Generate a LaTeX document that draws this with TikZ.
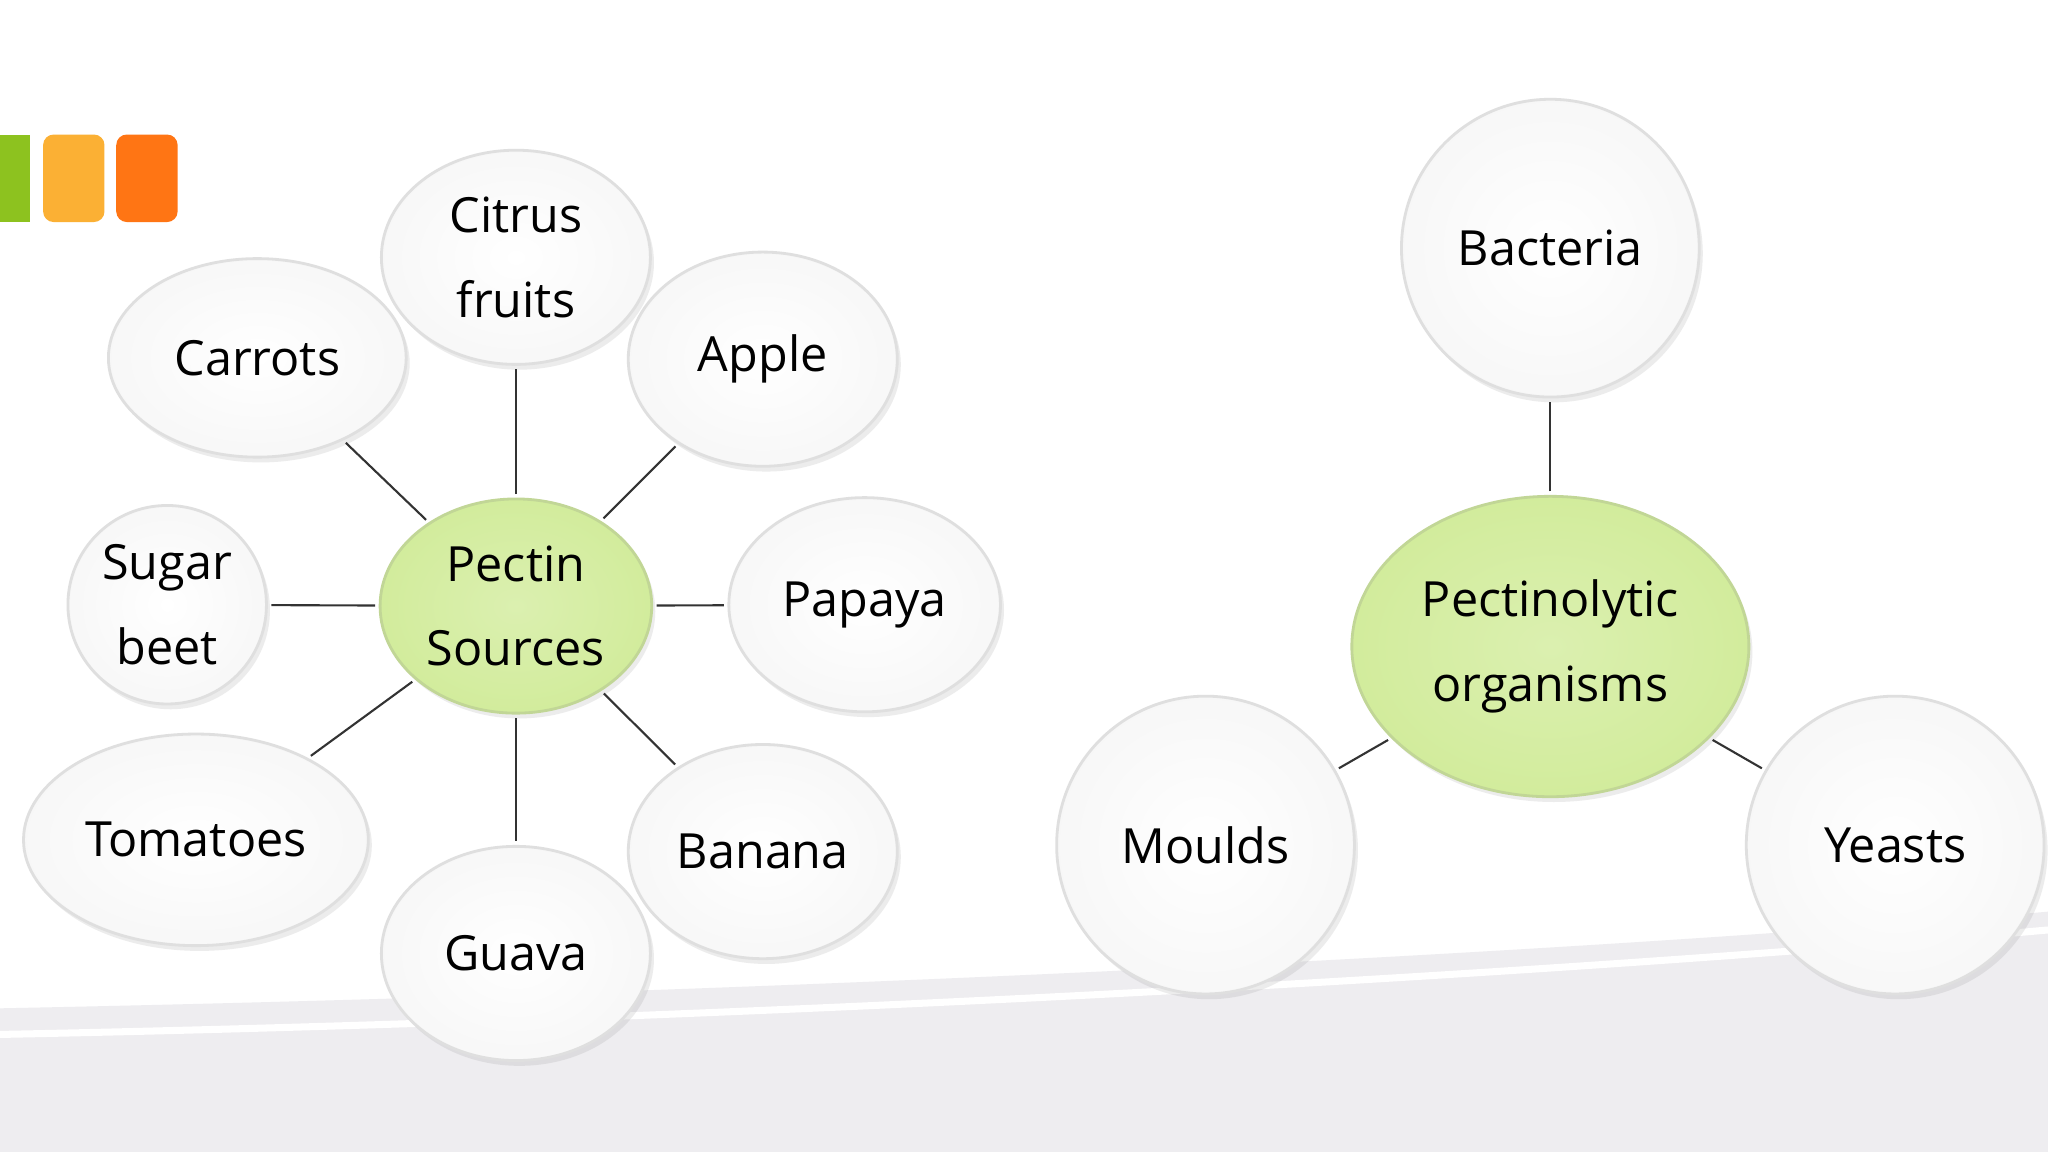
\documentclass[tikz,border=0pt]{standalone}
\usepackage{fontspec}
\setmainfont{Open Sans}
\usetikzlibrary{shadows,shapes.geometric}
\definecolor{gband}{HTML}{EEEDF0}
\definecolor{gfill}{HTML}{D2EC9C}
\definecolor{sq1}{HTML}{8DC21F}
\definecolor{sq2}{HTML}{FBB034}
\definecolor{sq3}{HTML}{FF7514}
\tikzset{
 bub/.style={ellipse,draw=gray!25,line width=0.8pt,inner sep=0pt,
   inner color=white,outer color=gray!6,
   drop shadow={shadow xshift=1pt,shadow yshift=-1.5pt,opacity=0.15},
   font=\fontsize{13.8}{24}\selectfont,align=center},
 gbub/.style={bub,inner color=gfill!80,outer color=gfill,draw=gfill!80!gray},
 sz/.style 2 args={minimum width=#1*0.013061cm,minimum height=#2*0.013061cm},
 con/.style={draw=black!80,line width=0.6pt,shorten <=1pt,shorten >=1pt}
}
\begin{document}
\begin{tikzpicture}[x=0.013061cm,y=-0.013061cm]
\useasboundingbox (0,0) rectangle (1568,882);
\fill[white] (0,0) rectangle (1568,882);
\fill[gband] (0,772) .. controls (600,760) and (1200,730) .. (1568,698) -- (1568,882) -- (0,882) -- cycle;
\draw[white,line width=2pt] (0,792) .. controls (600,780) and (1200,745) .. (1568,712);
\fill[sq1] (0,103) rectangle (23,170);
\fill[sq2,rounded corners=3pt] (33,103) rectangle (80,170);
\fill[sq3,rounded corners=3pt] (89,103) rectangle (136,170);
\node[gbub,sz={208}{164}] (ps) at (395,464) {Pectin\\Sources};
\node[bub,sz={206}{164}] (cit) at (395,197) {Citrus\\fruits};
\node[bub,sz={228}{152}] (car) at (197,274) {Carrots};
\node[bub,sz={206}{164}] (app) at (584,275) {Apple};
\node[bub,sz={152}{152}] (sug) at (128,463) {Sugar\\beet};
\node[bub,sz={208}{164}] (pap) at (662,463) {Papaya};
\node[bub,sz={264}{162}] (tom) at (150,643) {Tomatoes};
\node[bub,sz={206}{164}] (ban) at (584,652) {Banana};
\node[bub,sz={206}{164}] (gua) at (395,730) {Guava};
\node[gbub,sz={304}{230}] (po) at (1187,495) {Pectinolytic\\organisms};
\node[bub,sz={228}{228}] (bac) at (1187,190) {Bacteria};
\node[bub,sz={228}{228}] (mou) at (923,647) {Moulds};
\node[bub,sz={228}{228}] (yea) at (1451,647) {Yeasts};
\foreach \n in {cit,car,app,sug,pap,tom,ban,gua} \draw[con] (ps) -- (\n);
\foreach \n in {bac,mou,yea} \draw[con] (po) -- (\n);
\end{tikzpicture}
\end{document}
